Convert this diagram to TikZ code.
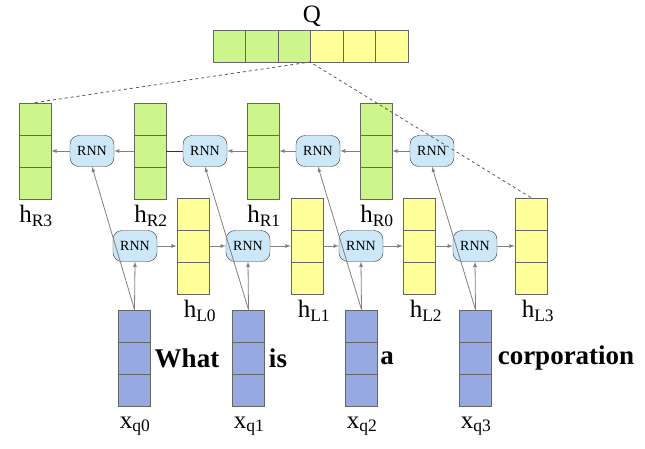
\documentclass[tikz,border=0pt]{standalone}
\usepackage{fontspec}
\setmainfont{Liberation Serif}
\definecolor{gfill}{RGB}{204,245,140}
\definecolor{yfill}{RGB}{255,255,153}
\definecolor{bfill}{RGB}{150,170,225}
\definecolor{rfill}{RGB}{204,232,248}
\begin{document}
\begin{tikzpicture}[x=1pt,y=-1pt,
 col/.style={draw=gray!80!black,line width=0.8pt,minimum width=32pt,minimum height=96pt,inner sep=0pt,
   path picture={\draw[gray!80!black,line width=0.8pt] ([yshift=-32pt]path picture bounding box.north west)--([yshift=-32pt]path picture bounding box.north east)
   ([yshift=32pt]path picture bounding box.south west)--([yshift=32pt]path picture bounding box.south east);}},
 gcol/.style={col,fill=gfill},
 ycol/.style={col,fill=yfill},
 bcol/.style={col,fill=bfill},
 rnn/.style={draw=black!80,fill=rfill,rounded corners=9pt,minimum width=44pt,minimum height=31pt,inner sep=0pt,font=\fontsize{14}{14}\selectfont},
 cell/.style={draw=gray!80!black,line width=0.8pt,minimum width=32.5pt,minimum height=32pt},
 ar/.style={draw=gray,line width=0.8pt,-latex},
 lab/.style={font=\fontsize{25}{25}\selectfont},
 word/.style={font=\bfseries\fontsize{27}{27}\selectfont}]
\useasboundingbox (0,0) rectangle (645,448);
% Q
\foreach \i in {0,1,2}{\node[cell,fill=gfill] (q\i) at (229.25+32.5*\i,46) {};}
\foreach \i in {3,4,5}{\node[cell,fill=yfill] (q\i) at (229.25+32.5*\i,46) {};}
\node[lab] (Q) at (312,16) {Q};
\coordinate (qb) at (310,62);
% green columns
\node[gcol] (r3) at (35,151) {};
\node[gcol] (r2) at (150,151) {};
\node[gcol] (r1) at (263,151) {};
\node[gcol] (r0) at (376,151) {};
\node[lab] at (36,216) {h\textsubscript{R3}};
\node[lab] at (151,216) {h\textsubscript{R2}};
\node[lab] at (264,216) {h\textsubscript{R1}};
\node[lab] at (377,216) {h\textsubscript{R0}};
% yellow
\node[ycol] (l0) at (193,246) {};
\node[ycol] (l1) at (307,246) {};
\node[ycol] (l2) at (419,246) {};
\node[ycol] (l3) at (531,246) {};
\node[lab] at (200,311) {h\textsubscript{L0}};
\node[lab] at (314,311) {h\textsubscript{L1}};
\node[lab] at (426,311) {h\textsubscript{L2}};
\node[lab] at (538,311) {h\textsubscript{L3}};
% blue
\node[bcol] (x0) at (134.5,358) {};
\node[bcol] (x1) at (248.5,358) {};
\node[bcol] (x2) at (361.5,358) {};
\node[bcol] (x3) at (475.5,358) {};
\node[lab] at (135,426) {x\textsubscript{q0}};
\node[lab] at (249,426) {x\textsubscript{q1}};
\node[lab] at (362,426) {x\textsubscript{q2}};
\node[lab] at (476,426) {x\textsubscript{q3}};
\node[word] at (187,358) {What};
\node[word] at (278,358) {is};
\node[word] at (387,358) {a};
\node[word] at (566,358) {corporation};
% RNNs
\node[rnn] (t0) at (92,151) {RNN};
\node[rnn] (t1) at (205,151) {RNN};
\node[rnn] (t2) at (318,151) {RNN};
\node[rnn] (t3) at (432,151) {RNN};
\node[rnn] (b0) at (135,246) {RNN};
\node[rnn] (b1) at (248,246) {RNN};
\node[rnn] (b2) at (361,246) {RNN};
\node[rnn] (b3) at (475,246) {RNN};
% top arrows
\draw[ar] (t0) -- (r3);
\draw[ar] (r2) -- (t0);
\draw[gray!40!black,line width=0.8pt] (t1) -- (r2);
\draw[ar] (r1) -- (t1);
\draw[ar] (t2) -- (r1);
\draw[ar] (r0) -- (t2);
\draw[ar] (t3) -- (r0);
% bottom arrows
\draw[ar] (b0) -- (l0);
\draw[ar] (l0) -- (b1);
\draw[ar] (b1) -- (l1);
\draw[ar] (l1) -- (b2);
\draw[ar] (b2) -- (l2);
\draw[ar] (l2) -- (b3);
\draw[ar] (b3) -- (l3);
% verticals
\foreach \i in {0,1,2,3}{\draw[ar] (x\i.north) -- (b\i.south); \draw[ar] (x\i.north) -- (t\i.south);}
% dashed
\draw[dashed,gray!70!black,line width=0.8pt] (r3.north) -- (qb) -- (l3.north);
\end{tikzpicture}
\end{document}
